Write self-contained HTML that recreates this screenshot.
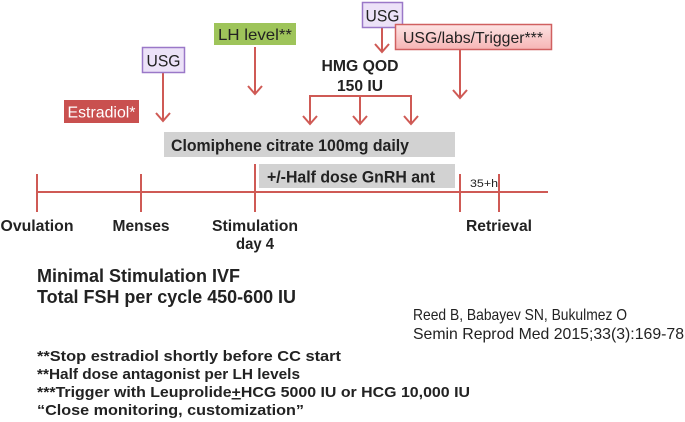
<!DOCTYPE html>
<html><head><style>
html,body{margin:0;padding:0;background:#fff;}
svg{display:block;font-family:"Liberation Sans",Arial,sans-serif;}
</style></head><body>
<svg width="685" height="422" viewBox="0 0 685 422" xmlns="http://www.w3.org/2000/svg">
<defs>
<linearGradient id="pk" x1="0" y1="0" x2="0" y2="1"><stop offset="0" stop-color="#fde4e4"/><stop offset="1" stop-color="#f6b4b4"/></linearGradient>
</defs>
<g stroke="#cf5a55" stroke-width="2" fill="none">
<line x1="37" y1="192" x2="548" y2="192"/>
<line x1="37" y1="174" x2="37" y2="212"/>
<line x1="141" y1="174" x2="141" y2="212"/>
<line x1="255" y1="164" x2="255" y2="212"/>
<line x1="460" y1="174" x2="460" y2="212"/>
<line x1="499" y1="174" x2="499" y2="212"/>
<line x1="163" y1="72" x2="163" y2="121"/><polyline points="156,113 163,121 170,113"/>
<line x1="255" y1="47" x2="255" y2="94"/><polyline points="248,86 255,94 262,86"/>
<line x1="382" y1="27" x2="382" y2="52"/><polyline points="375,44 382,52 389,44"/>
<line x1="460" y1="49" x2="460" y2="98"/><polyline points="453,90 460,98 467,90"/>
<polyline points="310,124 310,96 411,96 411,124"/>
<line x1="360" y1="96" x2="360" y2="124"/>
<polyline points="303,116 310,124 317,116"/>
<polyline points="353,116 360,124 367,116"/>
<polyline points="404,116 411,124 418,116"/>
</g>
<rect x="64" y="100" width="75" height="23" fill="#c9504f"/>
<text x="101.5" y="117.5" fill="#fff" font-size="16" text-anchor="middle" textLength="68" lengthAdjust="spacingAndGlyphs">Estradiol*</text>
<rect x="142.5" y="47.5" width="42" height="25" fill="#ece2f8" stroke="#9a78c8" stroke-width="1.5"/>
<text x="163.5" y="66.5" font-size="17" text-anchor="middle" fill="#222" textLength="34" lengthAdjust="spacingAndGlyphs">USG</text>
<rect x="214" y="23" width="82" height="22" fill="#9ec45a"/>
<text x="255" y="40" font-size="16" text-anchor="middle" fill="#222" textLength="74" lengthAdjust="spacingAndGlyphs">LH level**</text>
<rect x="362.5" y="2.5" width="40" height="25" fill="#ece2f8" stroke="#9a78c8" stroke-width="1.5"/>
<text x="382.5" y="21.5" font-size="17" text-anchor="middle" fill="#222" textLength="34" lengthAdjust="spacingAndGlyphs">USG</text>
<rect x="395.5" y="24.5" width="156" height="25" fill="url(#pk)" stroke="#d06060" stroke-width="1.5"/>
<text x="473" y="43" font-size="16" text-anchor="middle" fill="#222" textLength="140" lengthAdjust="spacingAndGlyphs">USG/labs/Trigger***</text>
<text x="360" y="71" font-size="16" font-weight="bold" text-anchor="middle" fill="#222" textLength="77" lengthAdjust="spacingAndGlyphs">HMG QOD</text>
<text x="360" y="91" font-size="16" font-weight="bold" text-anchor="middle" fill="#222" textLength="46" lengthAdjust="spacingAndGlyphs">150 IU</text>
<rect x="164" y="132" width="291" height="25" fill="#d2d2d2"/>
<text x="171" y="151" font-size="17" font-weight="bold" fill="#222" textLength="238" lengthAdjust="spacingAndGlyphs">Clomiphene citrate 100mg daily</text>
<rect x="259" y="164" width="196" height="24" fill="#d2d2d2"/>
<text x="267" y="182.5" font-size="17" font-weight="bold" fill="#222" textLength="168" lengthAdjust="spacingAndGlyphs">+/-Half dose GnRH ant</text>
<text x="470" y="187" font-size="11" fill="#222" textLength="28" lengthAdjust="spacingAndGlyphs">35+h</text>
<g font-size="16" font-weight="bold" fill="#222" text-anchor="middle">
<text x="37" y="231" textLength="73" lengthAdjust="spacingAndGlyphs">Ovulation</text>
<text x="141" y="231" textLength="57" lengthAdjust="spacingAndGlyphs">Menses</text>
<text x="255" y="231" textLength="86" lengthAdjust="spacingAndGlyphs">Stimulation</text>
<text x="255" y="249" textLength="38" lengthAdjust="spacingAndGlyphs">day 4</text>
<text x="499" y="231" textLength="66" lengthAdjust="spacingAndGlyphs">Retrieval</text>
</g>
<g fill="#222" font-weight="bold" font-size="18">
<text x="37" y="282" textLength="203" lengthAdjust="spacingAndGlyphs">Minimal Stimulation IVF</text>
<text x="37" y="303" textLength="259" lengthAdjust="spacingAndGlyphs">Total FSH per cycle 450-600 IU</text>
</g>
<g fill="#222" font-size="16">
<text x="413" y="320" textLength="214" lengthAdjust="spacingAndGlyphs">Reed B, Babayev SN, Bukulmez O</text>
<text x="413" y="339" textLength="271" lengthAdjust="spacingAndGlyphs">Semin Reprod Med 2015;33(3):169-78</text>
</g>
<g fill="#222" font-weight="bold" font-size="15">
<text x="37" y="361" textLength="304" lengthAdjust="spacingAndGlyphs">**Stop estradiol shortly before CC start</text>
<text x="37" y="379" textLength="263" lengthAdjust="spacingAndGlyphs">**Half dose antagonist per LH levels</text>
<text x="37" y="397" textLength="433" lengthAdjust="spacingAndGlyphs">***Trigger with Leuprolide<tspan text-decoration="underline">+</tspan>HCG 5000 IU or HCG 10,000 IU</text>
<text x="37" y="415" textLength="267" lengthAdjust="spacingAndGlyphs">“Close monitoring, customization”</text>
</g>
</svg>
</body></html>
